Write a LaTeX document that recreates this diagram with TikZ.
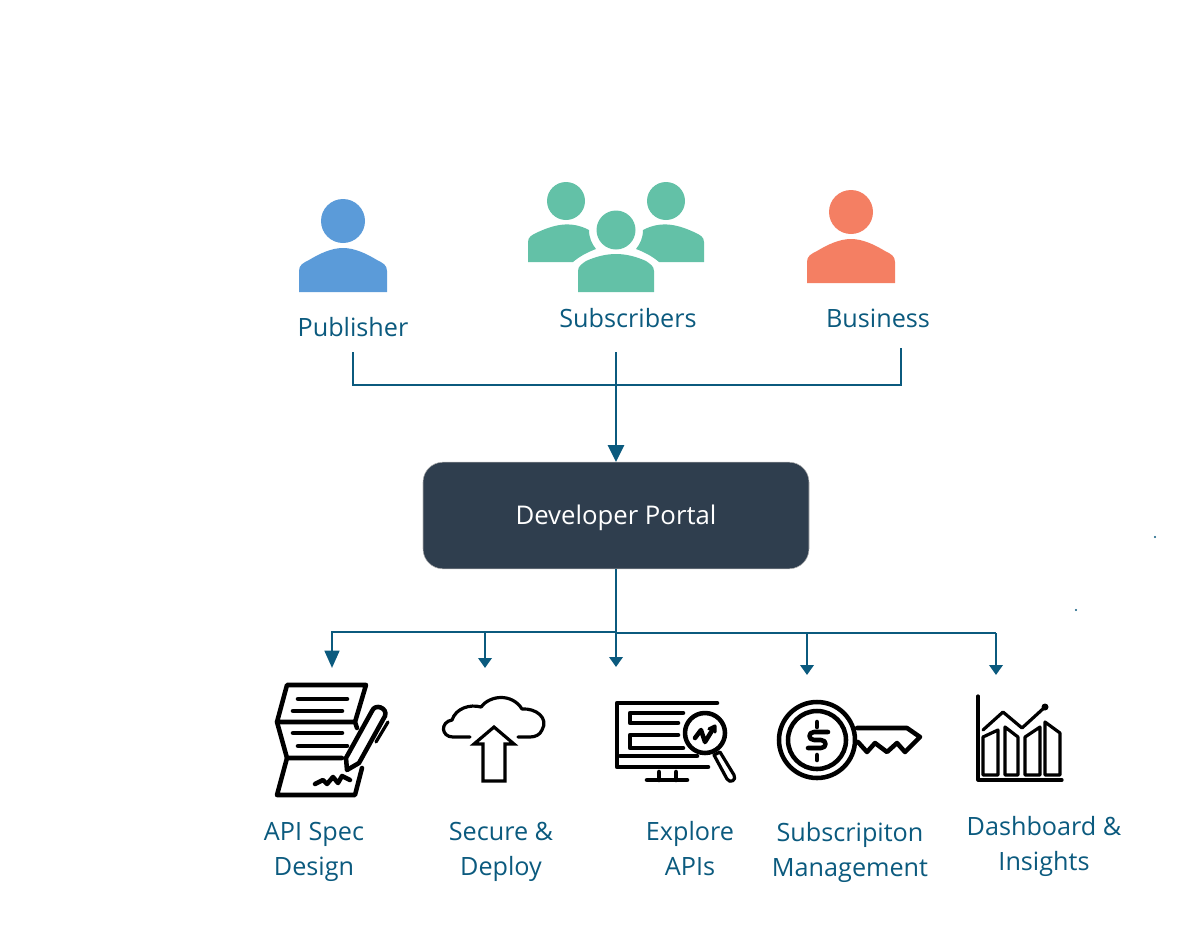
\documentclass[tikz,border=0pt]{standalone}
\usepackage{fontspec}
\setmainfont{Open Sans}
\usetikzlibrary{arrows.meta}
\definecolor{linkblue}{HTML}{0B5A7E}
\definecolor{portalfill}{HTML}{2F3E4E}
\definecolor{pubblue}{HTML}{5B9BD9}
\definecolor{subgreen}{HTML}{63C1A7}
\definecolor{busred}{HTML}{F47F63}
\tikzset{
    caption/.style={text=linkblue, font=\fontsize{18.9}{26.25}\selectfont, align=center, inner sep=0pt},
    link/.style={draw=linkblue, line width=1.9pt},
    tipsmall/.style={-{Triangle[length=7.5pt,width=10pt]}},
    tiplarge/.style={-{Triangle[length=13pt,width=11pt]}},
    icon/.style={draw=black, line width=3.4pt, line cap=round, line join=round, fill=none},
    iconthin/.style={draw=black, line width=2.4pt, line cap=round, line join=round, fill=none}
}
\newcommand{\personicon}[3]{
    \fill[#3] (#1,#2) circle[radius=22];
    \fill[#3] (#1-44,#2+71) -- (#1-44,#2+50) .. controls (#1-44,#2+44) and (#1-40,#2+42) .. (#1-34,#2+39)
        .. controls (#1-24,#2+33) and (#1-12,#2+27) .. (#1,#2+27)
        .. controls (#1+12,#2+27) and (#1+24,#2+33) .. (#1+34,#2+39)
        .. controls (#1+40,#2+42) and (#1+44,#2+44) .. (#1+44,#2+50) -- (#1+44,#2+71) -- cycle;
}
\begin{document}
\begin{tikzpicture}[x=0.75pt, y=-0.75pt]
    \useasboundingbox (0,0) rectangle (1200,946);

    % Draw people
    \personicon{343}{221}{pubblue}
    \personicon{851}{212}{busred}
    \fill[subgreen] (566,201) circle[radius=19];
    \fill[subgreen] (666,201) circle[radius=19];
    \fill[subgreen] (616,230) circle[radius=19.5];
    \fill[subgreen] (578,292) -- (578,271) .. controls (578,266) and (582,264) .. (586,261)
        .. controls (595,257) and (605,254) .. (616,254)
        .. controls (627,254) and (637,257) .. (646,261)
        .. controls (650,264) and (654,266) .. (654,271) -- (654,292) -- cycle;
    \fill[subgreen] (528,262) -- (528,242) .. controls (528,237) and (532,235) .. (536,233)
        .. controls (553,225) and (570,220) .. (589,230)
        .. controls (589,238) and (592,244) .. (596,249) .. controls (588,252) and (580,256) .. (573,262) -- cycle;
    \fill[subgreen] (704,262) -- (704,242) .. controls (704,237) and (700,235) .. (696,233)
        .. controls (679,225) and (662,220) .. (643,230)
        .. controls (643,238) and (640,244) .. (636,249) .. controls (644,252) and (652,256) .. (659,262) -- cycle;

    % Draw nodes
    \node[caption] (publisher) at (353,327) {Publisher};
    \node[caption] (subscribers) at (628,318) {Subscribers};
    \node[caption] (business) at (878,318.5) {Business};
    \node[draw=gray!60, fill=portalfill, rounded corners=15pt, minimum width=289.5pt, minimum height=80pt,
        text=white, font=\fontsize{19.3}{22}\selectfont] (portal) at (616,515.5) {\raisebox{-2pt}[\height][\depth]{Developer Portal}};
    \node[caption] (specdesign) at (314,852) {API Spec\\Design};
    \node[caption] (deploy) at (501,852) {Secure \&\\Deploy};
    \node[caption] (explore) at (690,849) {Explore\\APIs};
    \node[caption] (subscription) at (850,852) {Subscripiton\\Management};
    \node[caption] (dashboard) at (1044,846) {Dashboard \&\\Insights};

    % Draw edges
    \coordinate (pubout) at (353,352);
    \coordinate (subout) at (616,352);
    \coordinate (busout) at (901,348);
    \coordinate (topbar) at (616,385);
    \draw[link] (pubout) -- (pubout |- topbar) -- (busout |- topbar) -- (busout);
    \draw[link, -{Triangle[length=12.5pt,width=12pt]}] (subout) -- (portal.north);

    \coordinate (specin) at (332,668);
    \coordinate (deployin) at (485,668);
    \coordinate (explorein) at (616,667);
    \coordinate (subscriptionin) at (807,675);
    \coordinate (dashboardin) at (996,675);
    \coordinate (leftbar) at (616,632);
    \coordinate (rightbar) at (616,633);
    \draw[link, tipsmall] (portal.south) -- (explorein);
    \draw[link, tiplarge] (leftbar) -- (specin |- leftbar) -- (specin);
    \draw[link, tipsmall] (deployin |- leftbar) -- (deployin);
    \draw[link] (rightbar) -- (dashboardin |- rightbar);
    \draw[link, tipsmall] (subscriptionin |- rightbar) -- (subscriptionin);
    \draw[link, tipsmall] (dashboardin |- rightbar) -- (dashboardin);

    % Draw spec icon
    \draw[icon] (287,685) -- (366,685) -- (355,722) -- (277,722) -- cycle;
    \draw[icon] (355,722) -- (357,728);
    \draw[icon] (277,722) -- (287,758) -- (342,758);
    \draw[icon] (287,758) -- (277,795) -- (355,795) -- (362,768);
    \draw[icon] (298,699) -- (347,699);
    \draw[icon] (293,711) -- (342,711);
    \draw[icon] (293,733) -- (342,733);
    \draw[icon] (298,746) -- (347,746);
    \draw[icon] (347,770) -- (346,758) -- (372,711) .. controls (375,703) and (388,708) .. (385,716)
        -- (359,763) -- cycle;
    \draw[iconthin] (388,722) -- (376,742);
    \draw[icon] (315,784) -- (323,780) -- (327,784) -- (333,777) -- (338,783) -- (342,776) -- (350,780);

    % Draw cloud icon
    \draw[iconthin] (470,737) -- (453,737) .. controls (441,737) and (440,722) .. (452,720)
        .. controls (456,708) and (470,704) .. (481,707) .. controls (490,695) and (512,693) .. (522,709)
        .. controls (536,708) and (549,718) .. (542,730) .. controls (540,735) and (535,737) .. (530,737) -- (518,737);
    \draw[iconthin, line cap=butt, line join=miter] (483,781) -- (505,781) -- (505,744) -- (514,744)
        -- (494,727) -- (474,744) -- (483,744) -- cycle;

    % Draw explore icon
    \draw[icon] (717,703) -- (617,703) -- (617,767) -- (708,767);
    \draw[icon] (620,756) -- (697,756);
    \draw[icon] (647,780) -- (687,780);
    \draw[icon] (659,772) -- (659,780);
    \draw[icon] (676,772) -- (676,780);
    \draw[icon] (683,713) -- (630,713) -- (630,723) -- (678,723);
    \draw[icon] (678,735) -- (630,735) -- (630,748) -- (683,748);
    \draw[icon] (705,733) circle[radius=20];
    \draw[iconthin] (714,755) -- (727,779) .. controls (730,784) and (737,780) .. (734,775) -- (720,752) -- cycle;
    \draw[icon] (695,738) -- (701,730) -- (705,742) -- (713,729);
    \draw[iconthin] (709,729) -- (715,726) -- (715,732);

    % Draw key icon
    \draw[icon] (817,740) circle[radius=38];
    \draw[icon] (817,740) circle[radius=29];
    \draw[icon] (828,732) -- (814,732) .. controls (808,732) and (808,740) .. (814,740) -- (821,740)
        .. controls (827,740) and (827,748) .. (821,748) -- (808,748);
    \draw[icon] (817,722) -- (817,727);
    \draw[icon] (817,755) -- (817,760);
    \draw[icon] (857,728) -- (907,728) -- (920,737) -- (905,752) -- (897,743) -- (887,752) -- (875,743)
        -- (867,752) -- (858,742);

    % Draw dashboard icon
    \draw[iconthin] (978,696) -- (978,780) -- (1062,780);
    \draw[iconthin] (983,775) -- (983,737) -- (998,730) -- (998,775) -- cycle;
    \draw[iconthin] (1005,775) -- (1005,727) -- (1018,737) -- (1018,775) -- cycle;
    \draw[iconthin] (1025,775) -- (1025,737) -- (1040,727) -- (1040,775) -- cycle;
    \draw[iconthin] (1045,775) -- (1045,722) -- (1060,733) -- (1060,775) -- cycle;
    \draw[iconthin] (983,730) -- (1003,712) -- (1022,728) -- (1045,707);
    \fill (1045,707) circle[radius=3.5];

    % Draw specks
    \fill[linkblue] (1155,537) circle[radius=1.2];
    \fill[linkblue] (1076,610) circle[radius=1.2];
\end{tikzpicture}
\end{document}
